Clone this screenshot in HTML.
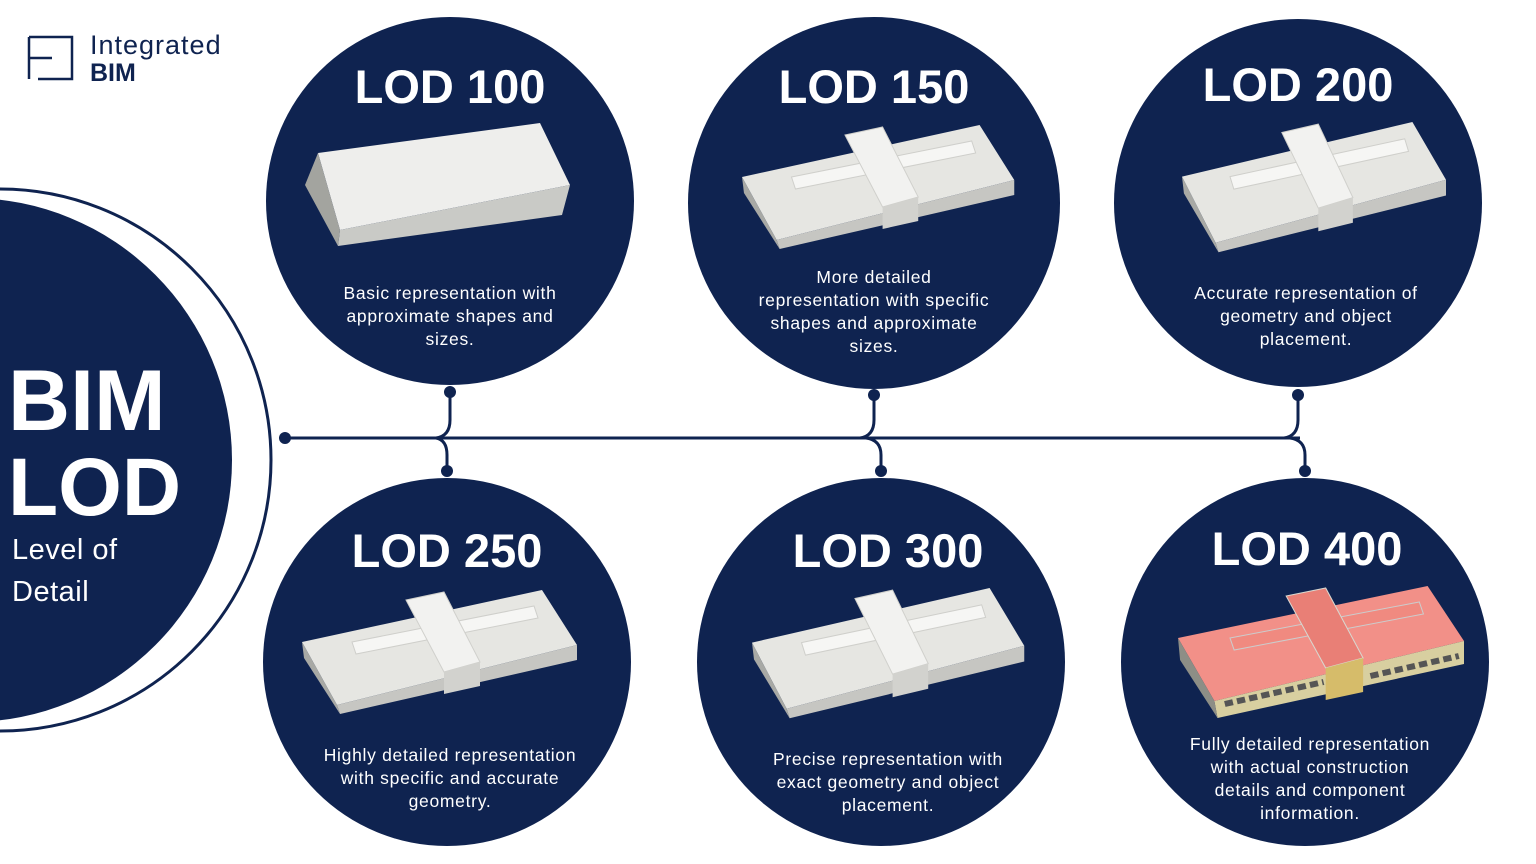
<!DOCTYPE html>
<html><head><meta charset="utf-8"><style>
html,body{margin:0;padding:0;background:#fff;}
svg{display:block;font-family:"Liberation Sans",sans-serif;}
.t{font-weight:bold;font-size:47px;fill:#fff;text-anchor:middle;}
.d{font-size:17.5px;letter-spacing:0.7px;fill:#fff;text-anchor:middle;}
</style></head><body>
<svg width="1536" height="864" viewBox="0 0 1536 864" xmlns="http://www.w3.org/2000/svg">
<defs>
<g id="bld">
  <polygon points="0,52 240,0 275,55 35,115" fill="#e6e6e2"/>
  <polygon points="35,115 275,55 275,70 38,124" fill="#c6c6c2"/>
  <polygon points="0,52 35,115 38,124 2,68" fill="#a8a9a5"/>
  <polygon points="50,52 232,16 236,28 54,64" fill="#f6f6f4" stroke="#cfcfcb" stroke-width="1"/>
  <polygon points="104,10 142,2 178,72 142,82" fill="#f2f2f0" stroke="#d0d0cc" stroke-width="1"/>
  <polygon points="142,82 178,72 178,96 142,104" fill="#d2d2ce"/>
</g>
<g id="bld4">
  <polygon points="0,52 240,0 275,55 35,115" fill="#f29088"/>
  <polygon points="35,115 275,55 275,78 38,132" fill="#d8cfa0"/>
  <polygon points="0,52 35,115 38,132 2,74" fill="#8d8e86"/>
  <polygon points="50,52 232,16 236,28 54,64" fill="#f08a80" stroke="#ccc" stroke-width="1"/>
  <polygon points="104,10 142,2 178,72 142,82" fill="#e97f76" stroke="#d8d8d0" stroke-width="1"/>
  <polygon points="142,82 178,72 178,106 142,114" fill="#d6bc6a"/>
  <path d="M45,118 L140,96 M185,90 L270,70" stroke="#555" stroke-width="6" stroke-dasharray="8 4"/>
</g>
</defs>
<!-- logo -->
<path d="M29,37 H72 V79 H38 M29,37 V79 M29,58 H52" fill="none" stroke="#0f2350" stroke-width="2.5"/>
<text x="90" y="54" font-size="27" letter-spacing="1" fill="#0f2350">Integrated</text>
<text x="90" y="81" font-size="25" font-weight="bold" fill="#0f2350">BIM</text>
<!-- left -->
<circle cx="0" cy="460" r="271" fill="none" stroke="#0f2350" stroke-width="3"/>
<circle cx="-30" cy="460" r="262" fill="#0f2350"/>
<text x="8" y="430" font-size="86" font-weight="bold" fill="#fff">BIM</text>
<text x="8" y="515" font-size="82" font-weight="bold" fill="#fff">LOD</text>
<text x="12" y="559" font-size="29" letter-spacing="0.5" fill="#fff">Level of</text>
<text x="12" y="601" font-size="29" letter-spacing="0.5" fill="#fff">Detail</text>
<!-- connectors -->
<g stroke="#0f2350" stroke-width="3" fill="none">
<line x1="285" y1="438" x2="1300" y2="438"/>
<path d="M450,392 V420 Q450,436 436,438 M436,438 Q447,440 447,455 V471"/>
<path d="M874,395 V420 Q874,436 860,438 M866,438 Q881,440 881,455 V471"/>
<path d="M1298,395 V420 Q1298,436 1284,438 M1290,438 Q1305,440 1305,455 V471"/>
</g>
<g fill="#0f2350">
<circle cx="285" cy="438" r="6"/>
<circle cx="450" cy="392" r="6"/><circle cx="447" cy="471" r="6"/>
<circle cx="874" cy="395" r="6"/><circle cx="881" cy="471" r="6"/>
<circle cx="1298" cy="395" r="6"/><circle cx="1305" cy="471" r="6"/>
<circle cx="450" cy="201" r="184"/>
<circle cx="874" cy="203" r="186"/>
<circle cx="1298" cy="203" r="184"/>
<circle cx="447" cy="662" r="184"/>
<circle cx="881" cy="662" r="184"/>
<circle cx="1305" cy="662" r="184"/>
</g>
<!-- LOD100 box -->
<polygon points="318,153 540,123 570,185 340,230" fill="#eeeeec"/>
<polygon points="340,230 570,185 562,215 338,246" fill="#c9cac6"/>
<polygon points="305,185 318,153 340,230 338,246" fill="#a3a49f"/>
<use href="#bld" transform="translate(742,125) scale(0.99,1)"/>
<use href="#bld" transform="translate(1182,122) scale(0.96,1.05)"/>
<use href="#bld" transform="translate(302,590)"/>
<use href="#bld" transform="translate(752,588) scale(0.99,1.05)"/>
<use href="#bld4" transform="translate(1178,586) scale(1.04,1)"/>
<text class="t" x="450" y="103">LOD 100</text>
<text class="t" x="874" y="103">LOD 150</text>
<text class="t" x="1298" y="101">LOD 200</text>
<text class="t" x="447" y="567">LOD 250</text>
<text class="t" x="888" y="567">LOD 300</text>
<text class="t" x="1307" y="565">LOD 400</text>
<text class="d" x="450" y="299">Basic representation with<tspan x="450" dy="23">approximate shapes and</tspan><tspan x="450" dy="23">sizes.</tspan></text>
<text class="d" x="874" y="283">More detailed<tspan x="874" dy="23">representation with specific</tspan><tspan x="874" dy="23">shapes and approximate</tspan><tspan x="874" dy="23">sizes.</tspan></text>
<text class="d" x="1306" y="299">Accurate representation of<tspan x="1306" dy="23">geometry and object</tspan><tspan x="1306" dy="23">placement.</tspan></text>
<text class="d" x="450" y="761">Highly detailed representation<tspan x="450" dy="23">with specific and accurate</tspan><tspan x="450" dy="23">geometry.</tspan></text>
<text class="d" x="888" y="765">Precise representation with<tspan x="888" dy="23">exact geometry and object</tspan><tspan x="888" dy="23">placement.</tspan></text>
<text class="d" x="1310" y="750">Fully detailed representation<tspan x="1310" dy="23">with actual construction</tspan><tspan x="1310" dy="23">details and component</tspan><tspan x="1310" dy="23">information.</tspan></text>
</svg>
</body></html>
